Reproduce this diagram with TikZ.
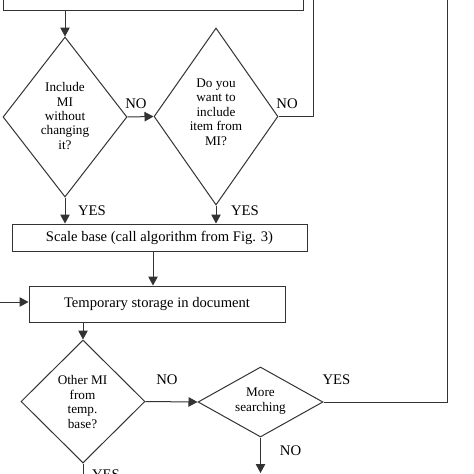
\documentclass[tikz,border=0pt]{standalone}
\usepackage{fontspec}
\setmainfont{Liberation Serif}
\usetikzlibrary{arrows.meta,shapes.geometric}
\begin{document}
\begin{tikzpicture}[x=1pt,y=-1pt,
  ln/.style={draw=black!80, line width=1pt},
  arr/.style={ln, -{Triangle[length=9pt,width=9.5pt]}},
  box/.style={draw=black!80, line width=1pt, rectangle, inner sep=0pt, font=\fontsize{14.6}{16}\selectfont},
  dia/.style={draw=black!80, line width=1pt, diamond, inner sep=0pt},
  dtext/.style={align=center, font=\fontsize{13.2}{14.4}\selectfont, inner sep=0pt},
  lab/.style={font=\fontsize{14.7}{16}\selectfont, inner sep=0pt}]
\useasboundingbox (0,0) rectangle (474,474);
\clip (0,0) rectangle (474,474);

% boxes
\node[box, minimum width=300pt, minimum height=40pt] (top) at (153,-10) {};
\node[box, minimum width=295pt, minimum height=27pt] (scale) at (159.5,237.5) {Scale base (call algorithm from Fig. 3)};
\node[box, minimum width=256pt, minimum height=36pt] (temp) at (157,304) {Temporary storage in document};

% diamonds
\node[dia, minimum width=124pt, minimum height=160pt] (d1) at (65,117) {};
\node[dia, minimum width=124pt, minimum height=177pt] (d2) at (216,116.5) {};
\node[dia, minimum width=124pt, minimum height=123pt] (d3) at (83,401.5) {};
\node[dia, minimum width=125pt, minimum height=70pt] (d4) at (260.5,402) {};

\node[dtext] (t1) at (65,116) {Include\\MI\\without\\changing\\it?};
\node[dtext] (t2) at (216,112) {Do you\\want to\\include\\item from\\MI?};
\node[dtext] (t3) at (82.5,402) {Other MI\\from\\temp.\\base?};
\node[dtext] (t4) at (260.5,401) {More\\searching};

% labels
\node[lab] (no1) at (136,104) {NO};
\node[lab] (no2) at (287,104) {NO};
\node[lab] (yes1) at (92,211) {YES};
\node[lab] (yes2) at (245,211) {YES};
\node[lab] (no3) at (167,380) {NO};
\node[lab] (yes3) at (336.5,380) {YES};
\node[lab] (no4) at (290.5,451) {NO};
\node[lab] (yes4) at (106,475) {YES};

% coordinates
\coordinate (c1) at (313,-20);
\coordinate (c3) at (-5,302);
\coordinate (c4) at (447,-20);
\coordinate (c5) at (260.5,473);
\coordinate (c6) at (83,490);

% connectors
\draw[arr] (d1.north |- top.south) -- (d1.north);
\draw[arr] (d1.east) -- (d2.west);
\draw[ln] (d2.east) -| (c1);
\draw[arr] (d1.south) -- (d1.south |- scale.north);
\draw[arr] (d2.south) -- (d2.south |- scale.north);
\draw[arr] ([xshift=-6.5pt]scale.south) -- ([xshift=-6.5pt]scale.south |- temp.north);
\draw[arr] (c3) -- (c3 -| temp.west);
\draw[arr] (d3.north |- temp.south) -- (d3.north);
\draw[arr] (d3.east) -- (d4.west);
\draw[ln] (d4.east) -| (c4);
\draw[arr] (d4.south) -- (c5);
\draw[ln] (d3.south) -- (c6);
\end{tikzpicture}
\end{document}
